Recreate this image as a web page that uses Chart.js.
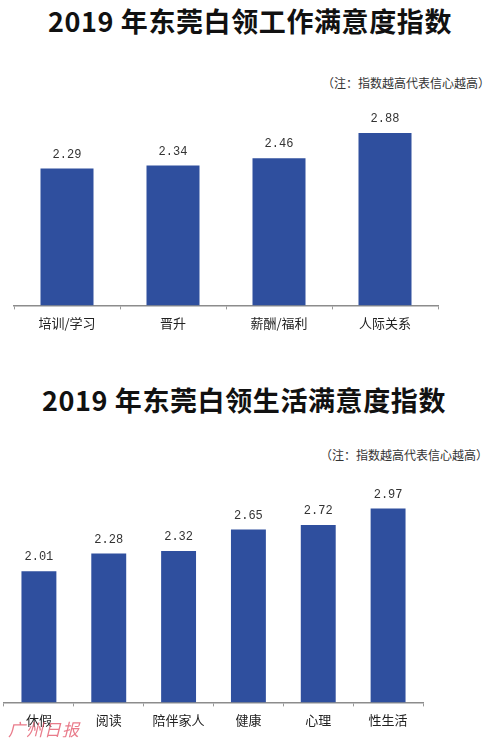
<!DOCTYPE html>
<html>
<head>
<meta charset="utf-8">
<script src="https://cdn.jsdelivr.net/npm/chart.js@4.4.0/dist/chart.umd.min.js"></script>
<style>
  body { margin: 0; background: #fff; }
  #page { position: relative; width: 500px; height: 749px; overflow: hidden; font-family: "Noto Sans CJK SC", sans-serif; }
  .title { position: absolute; left: 0; width: 500px; text-align: center; font-size: 27px; font-weight: bold; color: #111; letter-spacing: 0.6px; line-height: 32px; }
  .note { position: absolute; right: 10px; font-size: 12px; color: #333; line-height: 14px; }
  .box { position: absolute; left: 0; width: 500px; }
  #mark { position: absolute; left: 8px; top: 716px; font-size: 17px; font-style: italic; color: rgba(225, 80, 100, 0.75); letter-spacing: 1px; }
</style>
</head>
<body>
<div id="page">
  <div class="title" style="top:5px;">2019 年东莞白领工作满意度指数</div>
  <div class="note" style="top:76px;">（注：指数越高代表信心越高）</div>
  <div class="box" style="top:96px;height:241px;"><canvas id="grafico1"></canvas></div>

  <div class="title" style="top:384px;left:-6px;">2019 年东莞白领生活满意度指数</div>
  <div class="note" style="top:448px;right:12px;">（注：指数越高代表信心越高）</div>
  <div class="box" style="top:474px;height:260px;"><canvas id="grafico2"></canvas></div>

  <div id="mark">广州日报</div>
</div>
<script>
const ctx = document.getElementById('grafico1');
const ctx2 = document.getElementById('grafico2');

// dados do primeiro gráfico (trabalho)
const labelsTrabalho = ['培训/学习', '晋升', '薪酬/福利', '人际关系'];
const valoresTrabalho = [2.29, 2.34, 2.46, 2.88];

// dados do segundo gráfico (vida)
const labelsVida = ['休假', '阅读', '陪伴家人', '健康', '心理', '性生活'];
const valoresVida = [2.01, 2.28, 2.32, 2.65, 2.72, 2.97];

const corBarra = '#2f4f9e';

// escreve o valor em cima de cada barra
const valorNoTopo = {
  id: 'valorNoTopo',
  afterDatasetsDraw(chart) {
    const c = chart.ctx;
    const meta = chart.getDatasetMeta(0);
    const data = chart.data.datasets[0].data;
    c.save();
    c.font = '12px "Liberation Mono", monospace';
    c.fillStyle = '#333';
    c.textAlign = 'center';
    c.textBaseline = 'middle';
    meta.data.forEach((bar, i) => {
      c.fillText(data[i].toFixed(2), bar.x, bar.y - 14);
    });
    c.restore();
  }
};

function opcoes(padLeft, padRight) {
  return {
    responsive: true,
    maintainAspectRatio: false,
    animation: false,
    layout: { padding: { left: padLeft, right: padRight, top: 0, bottom: 0 } },
    plugins: { legend: { display: false }, tooltip: { enabled: false } },
    scales: {
      x: {
        offset: true,
        grid: { offset: true, drawOnChartArea: false, drawTicks: true, tickLength: 4, color: '#999' },
        border: { display: true, color: '#8c8c8c', width: 1.5 },
        ticks: { color: '#222', padding: 6, font: { family: '"Noto Sans CJK SC", sans-serif', size: 13 } }
      },
      y: { display: false, min: 0, max: 3.5 }
    }
  };
}

//cria os gráficos
new Chart(ctx, {
  type: 'bar',
  data: {
    labels: labelsTrabalho,
    datasets: [{
      data: valoresTrabalho,
      backgroundColor: corBarra,
      categoryPercentage: 1,
      barPercentage: 0.5
    }]
  },
  options: opcoes(14, 62),
  plugins: [valorNoTopo]
});

new Chart(ctx2, {
  type: 'bar',
  data: {
    labels: labelsVida,
    datasets: [{
      data: valoresVida,
      backgroundColor: corBarra,
      categoryPercentage: 1,
      barPercentage: 0.5
    }]
  },
  options: opcoes(4, 77),
  plugins: [valorNoTopo]
});
</script>
</body>
</html>
